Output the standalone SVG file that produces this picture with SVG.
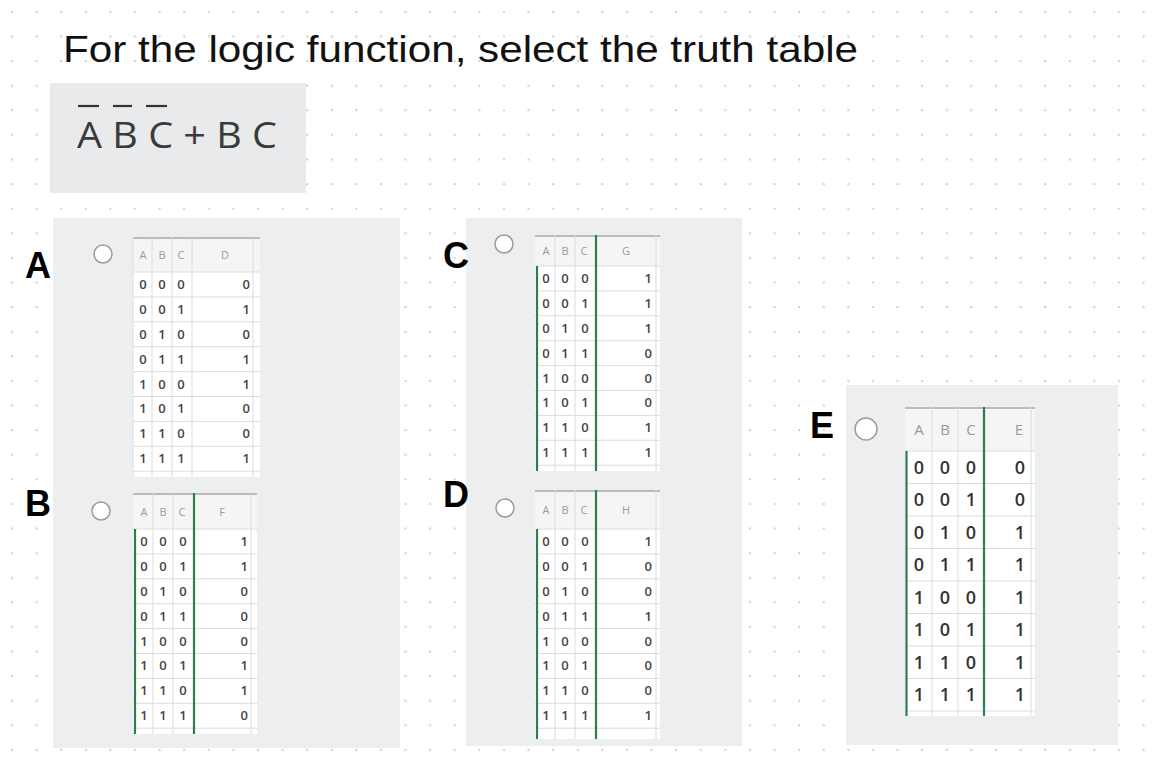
<svg xmlns="http://www.w3.org/2000/svg" width="1156" height="765" viewBox="0 0 1156 765">
<defs>
<pattern id="dots" width="24.6" height="24.6" patternUnits="userSpaceOnUse" x="0" y="0">
<circle cx="12" cy="12" r="1.1" fill="#c9cbcd"/>
</pattern>
</defs>
<style>
.lbl{font-family:"Liberation Sans",Arial,sans-serif;font-weight:bold;font-size:36px;fill:#000}
.hd{font-family:"Open Sans","DejaVu Sans",sans-serif;font-size:11px;fill:#9a9a9a;text-anchor:middle}
.v{font-family:"Open Sans","DejaVu Sans",sans-serif;font-size:13px;font-weight:600;fill:#444;text-anchor:middle}
.ve{font-family:"Open Sans","DejaVu Sans",sans-serif;font-size:18px;font-weight:600;fill:#333;text-anchor:middle}
.vr{text-anchor:end}
.g{stroke:#dcdcdc;stroke-width:1}
.grn{stroke:#2e7d4f;stroke-width:2.2}
.radio{fill:#fff;stroke:#9c9c9c;stroke-width:1.5}
.panel{fill:#eceef0}
</style>
<rect width="1156" height="765" fill="#fff"/>
<rect width="1156" height="765" fill="url(#dots)"/>
<text x="63" y="62" font-family="Liberation Sans,Arial,sans-serif" font-size="37" fill="#111" textLength="795" lengthAdjust="spacingAndGlyphs">For the logic function, select the truth table</text>
<g id="formula">
<rect x="50" y="83" width="256" height="110" fill="#e8eaec"/>
<text x="77" y="148" font-family="Open Sans,DejaVu Sans,sans-serif" font-size="36" fill="#3a3a3a" textLength="200" lengthAdjust="spacingAndGlyphs">A B C + B C</text>
<g stroke="#333" stroke-width="2.2"><line x1="78" y1="106" x2="99" y2="106"/><line x1="113" y1="106" x2="132" y2="106"/><line x1="146" y1="106" x2="167" y2="106"/></g>
</g>
<rect class="panel" x="53" y="218" width="347" height="530"/>
<rect class="panel" x="466" y="218" width="276" height="528"/>
<rect class="panel" x="846" y="385" width="272" height="360"/>
<text class="lbl" x="25" y="278">A</text>
<text class="lbl" x="25" y="516">B</text>
<text class="lbl" x="443" y="268">C</text>
<text class="lbl" x="443" y="507">D</text>
<text class="lbl" x="810" y="438">E</text>
<circle class="radio" cx="103" cy="254" r="9"/>
<circle class="radio" cx="101" cy="511" r="9"/>
<circle class="radio" cx="504" cy="244" r="9"/>
<circle class="radio" cx="505" cy="508" r="9"/>
<circle class="radio" cx="866" cy="429" r="11"/>

<g id="tableA" transform="translate(133,272)">
<rect x="0" y="-35" width="127" height="240" fill="#fff"/>
<rect x="0" y="-35" width="127" height="35" fill="#f5f5f5"/>
<line x1="0" y1="-34" x2="127" y2="-34" stroke="#bbb" stroke-width="2"/>
<g class="g"><line x1="0" y1="0" x2="127" y2="0"/><line x1="0" y1="24.9" x2="127" y2="24.9"/><line x1="0" y1="49.8" x2="127" y2="49.8"/><line x1="0" y1="74.7" x2="127" y2="74.7"/><line x1="0" y1="99.6" x2="127" y2="99.6"/><line x1="0" y1="124.5" x2="127" y2="124.5"/><line x1="0" y1="149.4" x2="127" y2="149.4"/><line x1="0" y1="174.3" x2="127" y2="174.3"/><line x1="0" y1="199.2" x2="127" y2="199.2"/><line x1="0" y1="-35" x2="0" y2="205"/><line x1="19" y1="-35" x2="19" y2="205"/><line x1="39" y1="-35" x2="39" y2="205"/><line x1="59" y1="-35" x2="59" y2="205"/><line x1="120" y1="-35" x2="120" y2="205"/></g>
<text class="hd" x="10 29 48" y="-13">ABC</text><text class="hd" x="92" y="-13">D</text>
<text class="v" x="10 29 48" y="17">000</text><text class="v vr" x="117" y="17">0</text>
<text class="v" x="10 29 48" y="42">001</text><text class="v vr" x="117" y="42">1</text>
<text class="v" x="10 29 48" y="67">010</text><text class="v vr" x="117" y="67">0</text>
<text class="v" x="10 29 48" y="92">011</text><text class="v vr" x="117" y="92">1</text>
<text class="v" x="10 29 48" y="117">100</text><text class="v vr" x="117" y="117">1</text>
<text class="v" x="10 29 48" y="141">101</text><text class="v vr" x="117" y="141">0</text>
<text class="v" x="10 29 48" y="166">110</text><text class="v vr" x="117" y="166">0</text>
<text class="v" x="10 29 48" y="191">111</text><text class="v vr" x="117" y="191">1</text>
</g>

<g id="tableB" transform="translate(133,529)">
<rect x="0" y="-36" width="124" height="241" fill="#fff"/>
<rect x="0" y="-36" width="124" height="36" fill="#f5f5f5"/>
<line x1="0" y1="-35" x2="124" y2="-35" stroke="#bbb" stroke-width="2"/>
<g class="g"><line x1="0" y1="0" x2="124" y2="0"/><line x1="0" y1="24.9" x2="124" y2="24.9"/><line x1="0" y1="49.8" x2="124" y2="49.8"/><line x1="0" y1="74.7" x2="124" y2="74.7"/><line x1="0" y1="99.6" x2="124" y2="99.6"/><line x1="0" y1="124.5" x2="124" y2="124.5"/><line x1="0" y1="149.4" x2="124" y2="149.4"/><line x1="0" y1="174.3" x2="124" y2="174.3"/><line x1="0" y1="199.2" x2="124" y2="199.2"/><line x1="20" y1="-36" x2="20" y2="205"/><line x1="40" y1="-36" x2="40" y2="205"/><line x1="118" y1="-36" x2="118" y2="205"/></g>
<line class="grn" x1="2" y1="0" x2="2" y2="205"/><line class="grn" x1="61" y1="-36" x2="61" y2="205"/>
<text class="hd" x="11 30 49" y="-13">ABC</text><text class="hd" x="89" y="-13">F</text>
<text class="v" x="11 30 50" y="17">000</text><text class="v vr" x="115" y="17">1</text>
<text class="v" x="11 30 50" y="42">001</text><text class="v vr" x="115" y="42">1</text>
<text class="v" x="11 30 50" y="67">010</text><text class="v vr" x="115" y="67">0</text>
<text class="v" x="11 30 50" y="92">011</text><text class="v vr" x="115" y="92">0</text>
<text class="v" x="11 30 50" y="117">100</text><text class="v vr" x="115" y="117">0</text>
<text class="v" x="11 30 50" y="141">101</text><text class="v vr" x="115" y="141">1</text>
<text class="v" x="11 30 50" y="166">110</text><text class="v vr" x="115" y="166">1</text>
<text class="v" x="11 30 50" y="191">111</text><text class="v vr" x="115" y="191">0</text>
</g>

<g id="tableC" transform="translate(535,266)">
<rect x="0" y="-31" width="125" height="236" fill="#fff"/>
<rect x="0" y="-31" width="125" height="31" fill="#f5f5f5"/>
<line x1="0" y1="-30" x2="125" y2="-30" stroke="#bbb" stroke-width="2"/>
<g class="g"><line x1="0" y1="0" x2="125" y2="0"/><line x1="0" y1="24.9" x2="125" y2="24.9"/><line x1="0" y1="49.8" x2="125" y2="49.8"/><line x1="0" y1="74.7" x2="125" y2="74.7"/><line x1="0" y1="99.6" x2="125" y2="99.6"/><line x1="0" y1="124.5" x2="125" y2="124.5"/><line x1="0" y1="149.4" x2="125" y2="149.4"/><line x1="0" y1="174.3" x2="125" y2="174.3"/><line x1="0" y1="199.2" x2="125" y2="199.2"/><line x1="20" y1="-31" x2="20" y2="205"/><line x1="40" y1="-31" x2="40" y2="205"/><line x1="121" y1="-31" x2="121" y2="205"/></g>
<line class="grn" x1="2" y1="0" x2="2" y2="205"/><line class="grn" x1="61" y1="-31" x2="61" y2="205"/>
<text class="hd" x="11 30 49" y="-11">ABC</text><text class="hd" x="91" y="-11">G</text>
<text class="v" x="11 30 50" y="17">000</text><text class="v vr" x="117" y="17">1</text>
<text class="v" x="11 30 50" y="42">001</text><text class="v vr" x="117" y="42">1</text>
<text class="v" x="11 30 50" y="67">010</text><text class="v vr" x="117" y="67">1</text>
<text class="v" x="11 30 50" y="92">011</text><text class="v vr" x="117" y="92">0</text>
<text class="v" x="11 30 50" y="117">100</text><text class="v vr" x="117" y="117">0</text>
<text class="v" x="11 30 50" y="141">101</text><text class="v vr" x="117" y="141">0</text>
<text class="v" x="11 30 50" y="166">110</text><text class="v vr" x="117" y="166">1</text>
<text class="v" x="11 30 50" y="191">111</text><text class="v vr" x="117" y="191">1</text>
</g>

<g id="tableD" transform="translate(535,529)">
<rect x="0" y="-39" width="125" height="249" fill="#fff"/>
<rect x="0" y="-39" width="125" height="39" fill="#f5f5f5"/>
<line x1="0" y1="-38" x2="125" y2="-38" stroke="#bbb" stroke-width="2"/>
<g class="g"><line x1="0" y1="0" x2="125" y2="0"/><line x1="0" y1="24.9" x2="125" y2="24.9"/><line x1="0" y1="49.8" x2="125" y2="49.8"/><line x1="0" y1="74.7" x2="125" y2="74.7"/><line x1="0" y1="99.6" x2="125" y2="99.6"/><line x1="0" y1="124.5" x2="125" y2="124.5"/><line x1="0" y1="149.4" x2="125" y2="149.4"/><line x1="0" y1="174.3" x2="125" y2="174.3"/><line x1="0" y1="199.2" x2="125" y2="199.2"/><line x1="20" y1="-39" x2="20" y2="210"/><line x1="40" y1="-39" x2="40" y2="210"/><line x1="121" y1="-39" x2="121" y2="210"/></g>
<line class="grn" x1="2" y1="0" x2="2" y2="210"/><line class="grn" x1="61" y1="-39" x2="61" y2="210"/>
<text class="hd" x="11 30 49" y="-15">ABC</text><text class="hd" x="91" y="-15">H</text>
<text class="v" x="11 30 50" y="17">000</text><text class="v vr" x="117" y="17">1</text>
<text class="v" x="11 30 50" y="42">001</text><text class="v vr" x="117" y="42">0</text>
<text class="v" x="11 30 50" y="67">010</text><text class="v vr" x="117" y="67">0</text>
<text class="v" x="11 30 50" y="92">011</text><text class="v vr" x="117" y="92">1</text>
<text class="v" x="11 30 50" y="117">100</text><text class="v vr" x="117" y="117">0</text>
<text class="v" x="11 30 50" y="141">101</text><text class="v vr" x="117" y="141">0</text>
<text class="v" x="11 30 50" y="166">110</text><text class="v vr" x="117" y="166">0</text>
<text class="v" x="11 30 50" y="191">111</text><text class="v vr" x="117" y="191">1</text>
</g>

<g id="tableE" transform="translate(905,451)">
<rect x="0" y="-44" width="130" height="309" fill="#fff"/>
<rect x="0" y="-44" width="130" height="44" fill="#f5f5f5"/>
<line x1="0" y1="-43" x2="130" y2="-43" stroke="#bbb" stroke-width="2"/>
<g class="g"><line x1="0" y1="0" x2="130" y2="0"/><line x1="0" y1="32.5" x2="130" y2="32.5"/><line x1="0" y1="65" x2="130" y2="65"/><line x1="0" y1="97.5" x2="130" y2="97.5"/><line x1="0" y1="130" x2="130" y2="130"/><line x1="0" y1="162.5" x2="130" y2="162.5"/><line x1="0" y1="195" x2="130" y2="195"/><line x1="0" y1="227.5" x2="130" y2="227.5"/><line x1="0" y1="260" x2="130" y2="260"/><line x1="27" y1="-44" x2="27" y2="265"/><line x1="53" y1="-44" x2="53" y2="265"/><line x1="126" y1="-44" x2="126" y2="265"/></g>
<line class="grn" x1="1.5" y1="0" x2="1.5" y2="265"/><line class="grn" x1="79" y1="-44" x2="79" y2="265"/>
<text class="hd" style="font-size:15px" x="14 40 66" y="-16">ABC</text><text class="hd" style="font-size:15px" x="114" y="-16">E</text>
<text class="ve" x="14 40 66" y="23">000</text><text class="ve vr" x="120" y="23">0</text>
<text class="ve" x="14 40 66" y="55">001</text><text class="ve vr" x="120" y="55">0</text>
<text class="ve" x="14 40 66" y="88">010</text><text class="ve vr" x="120" y="88">1</text>
<text class="ve" x="14 40 66" y="120">011</text><text class="ve vr" x="120" y="120">1</text>
<text class="ve" x="14 40 66" y="153">100</text><text class="ve vr" x="120" y="153">1</text>
<text class="ve" x="14 40 66" y="185">101</text><text class="ve vr" x="120" y="185">1</text>
<text class="ve" x="14 40 66" y="218">110</text><text class="ve vr" x="120" y="218">1</text>
<text class="ve" x="14 40 66" y="250">111</text><text class="ve vr" x="120" y="250">1</text>
</g>
</svg>
